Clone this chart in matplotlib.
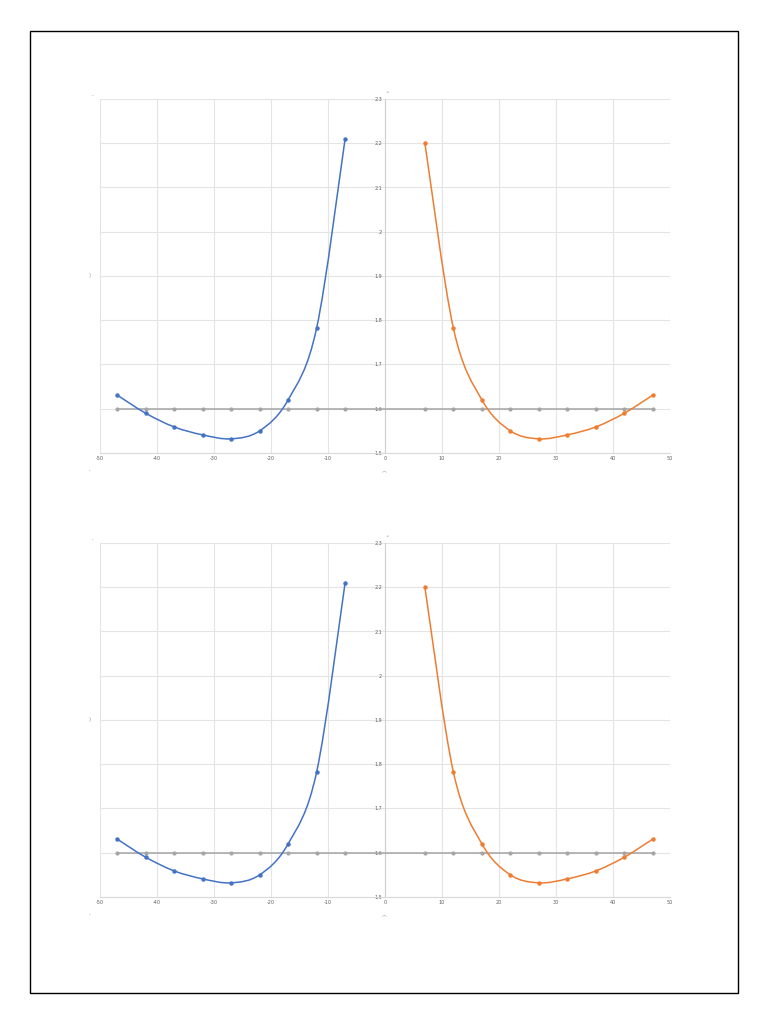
import numpy as np
import matplotlib.pyplot as plt
from matplotlib.path import Path
from matplotlib.patches import PathPatch, Rectangle

plt.rcParams['axes.unicode_minus'] = False

# --- data ---
x_left = [-47, -42, -37, -32, -27, -22, -17, -12, -7]
y_left = [1.631, 1.590, 1.559, 1.541, 1.532, 1.550, 1.620, 1.782, 2.210]
x_right = [7, 12, 17, 22, 27, 32, 37, 42, 47]
y_right = [2.200, 1.782, 1.620, 1.550, 1.532, 1.541, 1.559, 1.590, 1.631]
x_base = x_left + x_right
y_base = [1.6] * len(x_base)

x_ticks = [-50, -40, -30, -20, -10, 0, 10, 20, 30, 40, 50]
y_ticks = [1.5, 1.6, 1.7, 1.8, 1.9, 2.0, 2.1, 2.2, 2.3]
y_ticklabels = ["1.5", "1.6", "1.7", "1.8", "1.9", "2", "2.1", "2.2", "2.3"]

BLUE = "#4472C4"
ORANGE = "#ED7D31"
GRAY = "#A5A5A5"


def smooth_path(xs, ys):
    """Excel-style smoothed line: cubic Bezier through the points (Catmull-Rom, 1/6)."""
    pts = np.column_stack([xs, ys]).astype(float)
    n = len(pts)
    verts = [pts[0]]
    codes = [Path.MOVETO]
    for i in range(n - 1):
        p_prev = pts[i - 1] if i > 0 else pts[i]
        p_next2 = pts[i + 2] if i + 2 < n else pts[i + 1]
        c1 = pts[i] + (pts[i + 1] - p_prev) / 6.0
        c2 = pts[i + 1] - (p_next2 - pts[i]) / 6.0
        verts += [c1, c2, pts[i + 1]]
        codes += [Path.CURVE4] * 3
    return Path(verts, codes)


def draw_chart(ax):
    ax.set_xlim(-50, 50)
    ax.set_ylim(1.5, 2.3)
    ax.set_xticks(x_ticks)
    ax.set_yticks(y_ticks)
    ax.set_yticklabels(y_ticklabels)
    ax.grid(True, color="#e4e4e4", linewidth=0.8)
    ax.set_axisbelow(True)
    for s in ["top", "right"]:
        ax.spines[s].set_visible(False)
    ax.spines["left"].set_position(("data", 0))
    ax.spines["left"].set_color("#d0d0d0")
    ax.spines["bottom"].set_color("#d9d9d9")
    ax.tick_params(length=0, labelsize=3.5, labelcolor="#606060", pad=2)

    ax.plot(x_base, y_base, color=GRAY, linewidth=1.1, marker="o",
            markersize=2.0, zorder=3)
    for xs, ys, c in [(x_left, y_left, BLUE), (x_right, y_right, ORANGE)]:
        ax.add_patch(PathPatch(smooth_path(xs, ys), facecolor="none",
                               edgecolor=c, linewidth=1.1, zorder=4))
        ax.plot(xs, ys, linestyle="none", marker="o", markersize=2.2,
                color=c, zorder=5)

    # stray glyph fragments seen around the plot area
    tc = "#9a9a9a"
    ax.text(-0.015, 1.01, ",", transform=ax.transAxes, fontsize=4, color=tc)
    ax.text(0.5, 1.005, "ˇ", transform=ax.transAxes, fontsize=5, color=tc)
    ax.text(-0.02, 0.50, ")", transform=ax.transAxes, fontsize=4, color=tc,
            va="center")
    ax.text(-0.02, -0.05, ",", transform=ax.transAxes, fontsize=4, color=tc)
    ax.text(0.5, -0.05, ")", transform=ax.transAxes, fontsize=4, color=tc,
            ha="center", va="center", rotation=90)


fig = plt.figure(figsize=(7.68, 10.24), dpi=100)
fig.patches.append(Rectangle((30 / 768, 1 - 993 / 1024), 708 / 768, 962 / 1024,
                             transform=fig.transFigure, fill=False,
                             edgecolor="black", linewidth=1))

ax1 = fig.add_axes([100 / 768, 1 - 453 / 1024, 570 / 768, 354 / 1024])
ax2 = fig.add_axes([100 / 768, 1 - 897 / 1024, 570 / 768, 354 / 1024])
draw_chart(ax1)
draw_chart(ax2)

fig.savefig("out.png", dpi=100)
